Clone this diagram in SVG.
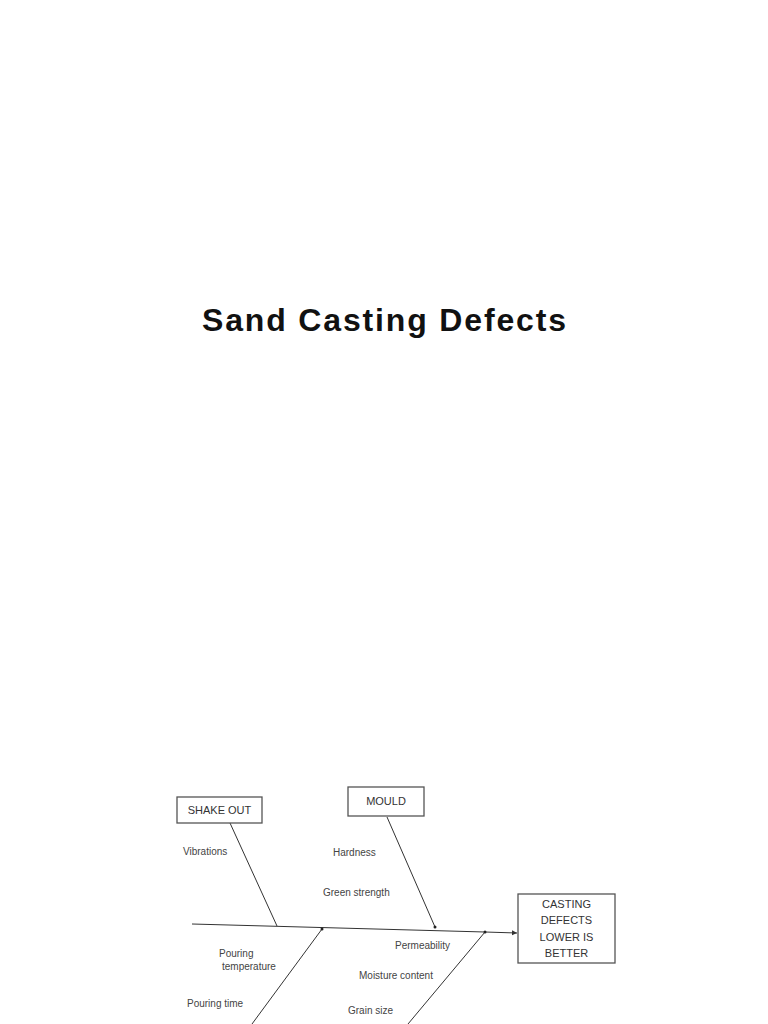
<svg xmlns="http://www.w3.org/2000/svg" width="768" height="1024" viewBox="0 0 768 1024">
<style>
.box{fill:#fff;stroke:#555;stroke-width:1.3}
.ln{stroke:#333;stroke-width:1;fill:none}
.t{font-family:"Liberation Sans",Arial,sans-serif;font-size:10px;fill:#444}
.bt{font-family:"Liberation Sans",Arial,sans-serif;font-size:11px;fill:#333;text-anchor:middle}
</style>
<defs><marker id="a" markerWidth="6" markerHeight="6" refX="5" refY="3" orient="auto"><path d="M0,0.5 L5,3 L0,5.5 Z" fill="#333"/></marker>
<marker id="d" markerWidth="4" markerHeight="4" refX="2" refY="2"><circle cx="2" cy="2" r="1.5" fill="#222"/></marker></defs>
<rect width="768" height="1024" fill="#fff"/>
<text x="384" y="331" text-anchor="middle" font-family="Liberation Sans,Arial,sans-serif" font-weight="bold" font-size="32" fill="#111" textLength="364">Sand Casting Defects</text>
<g id="connectors">
<path class="ln" d="M192,924 L485,932"/>
<path class="ln" d="M485,932 L517,933" marker-end="url(#a)"/>
<path class="ln" d="M230,823 L277,926"/>
<path class="ln" d="M387,817 L435,927" marker-end="url(#d)"/>
<path class="ln" d="M252,1024 L322,929" marker-end="url(#d)"/>
<path class="ln" d="M408,1024 L485,932" marker-end="url(#d)"/>
</g>
<g id="shake"><rect class="box" x="177" y="797" width="85" height="26"/><text class="bt" x="219.5" y="814">SHAKE OUT</text></g>
<g id="mould"><rect class="box" x="348" y="787" width="76" height="29"/><text class="bt" x="386" y="805">MOULD</text></g>
<g id="effect"><rect class="box" x="518" y="894" width="97" height="69"/>
<text class="bt" x="566.5" y="908">CASTING</text><text class="bt" x="566.5" y="924">DEFECTS</text><text class="bt" x="566.5" y="941">LOWER IS</text><text class="bt" x="566.5" y="957">BETTER</text></g>
<g id="labels">
<text class="t" x="183" y="855">Vibrations</text>
<text class="t" x="333" y="856">Hardness</text>
<text class="t" x="323" y="896">Green strength</text>
<text class="t" x="219" y="957">Pouring</text>
<text class="t" x="222" y="970">temperature</text>
<text class="t" x="187" y="1007">Pouring time</text>
<text class="t" x="395" y="949">Permeability</text>
<text class="t" x="359" y="979">Moisture content</text>
<text class="t" x="348" y="1014">Grain size</text>
</g>
</svg>
